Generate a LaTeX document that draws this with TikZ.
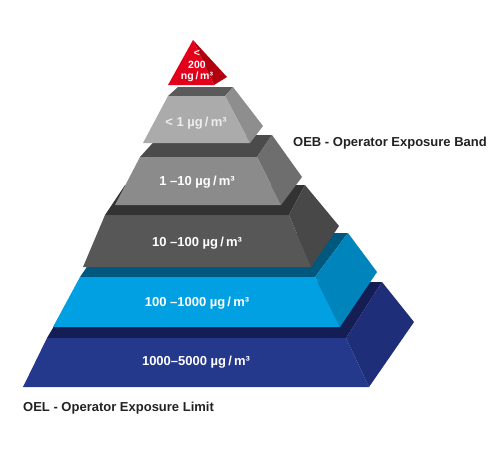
\documentclass[tikz,border=0pt]{standalone}
\usepackage{fontspec}
\setmainfont{Liberation Sans}
\definecolor{navyF}{HTML}{24388C}
\definecolor{navyS}{HTML}{1E2E78}
\definecolor{navyT}{HTML}{151D55}
\definecolor{cyanF}{HTML}{00A0E2}
\definecolor{cyanS}{HTML}{0084BC}
\definecolor{cyanT}{HTML}{00587E}
\definecolor{dgF}{HTML}{575757}
\definecolor{dgS}{HTML}{484848}
\definecolor{dgT}{HTML}{333333}
\definecolor{mgF}{HTML}{8B8B8B}
\definecolor{mgS}{HTML}{6E6E6E}
\definecolor{mgT}{HTML}{4B4B4B}
\definecolor{lgF}{HTML}{ABABAB}
\definecolor{lgS}{HTML}{8E8E8E}
\definecolor{lgT}{HTML}{5A5A5A}
\definecolor{redF}{HTML}{E2001A}
\definecolor{redS}{HTML}{B3000F}
\definecolor{capt}{HTML}{222222}
\tikzset{
  lbl/.style={text=white, font=\fontsize{13}{15}\selectfont\bfseries, inner sep=0pt},
  tiplbl/.style={text=white, font=\fontsize{10.5}{12}\selectfont\bfseries, inner sep=0pt},
  caption/.style={text=capt, font=\fontsize{13}{15}\selectfont\bfseries, inner sep=0pt, anchor=west}
}
\begin{document}
\begin{tikzpicture}[x=1pt,y=-1pt]
\useasboundingbox (0,0) rectangle (500,450);
% layer 1 navy
\fill[navyT] (47,338) -- (346,338) -- (382,282) -- (80,282) -- cycle;
\fill[navyS] (346,338) -- (382,282) -- (414,322) -- (369,387) -- cycle;
\fill[navyF] (47,338) -- (346,338) -- (369,387) -- (23,387) -- cycle;
% layer 2 light blue
\fill[cyanT] (80,277) -- (315,277) -- (348,233) -- (110,233) -- cycle;
\fill[cyanS] (315,277) -- (348,233) -- (377,272) -- (340,327) -- cycle;
\fill[cyanF] (80,277) -- (315,277) -- (340,327) -- (53,327) -- cycle;
% layer 3 dark grey
\fill[dgT] (105,215) -- (289,215) -- (305,185) -- (125,185) -- cycle;
\fill[dgS] (289,215) -- (305,185) -- (339,226) -- (311,267) -- cycle;
\fill[dgF] (105,215) -- (289,215) -- (311,267) -- (83,267) -- cycle;
% layer 4 medium grey
\fill[mgT] (140,157) -- (257,157) -- (272,135) -- (160,135) -- cycle;
\fill[mgS] (257,157) -- (272,135) -- (302,177) -- (281,205) -- cycle;
\fill[mgF] (140,157) -- (257,157) -- (281,205) -- (115,205) -- cycle;
% layer 5 light grey
\fill[lgT] (168,96) -- (225,96) -- (233,87) -- (178,87) -- cycle;
\fill[lgS] (225,96) -- (233,87) -- (263,126) -- (250,143) -- cycle;
\fill[lgF] (168,96) -- (225,96) -- (250,143) -- (143,143) -- cycle;
% red tip
\fill[redS] (193,40) -- (227,77) -- (214,85) -- cycle;
\fill[redF] (193,40) -- (214,85) -- (168,85) -- cycle;
% labels
\node[tiplbl] (t1) at (197,53) {<};
\node[tiplbl] (t2) at (197,65) {200};
\node[tiplbl] (t3) at (197,77) {ng\,/\,m³};
\node[lbl, text=white!93!black] (l5) at (196,123) {< 1 µg\,/\,m³};
\node[lbl] (l4) at (197,182) {1 –10 µg\,/\,m³};
\node[lbl] (l3) at (197,243) {10 –100 µg\,/\,m³};
\node[lbl] (l2) at (197,303) {100 –1000 µg\,/\,m³};
\node[lbl] (l1) at (196,362) {1000–5000 µg\,/\,m³};
\node[caption] (oeb) at (293,143) {OEB - Operator Exposure Band};
\node[caption] (oel) at (23,408) {OEL - Operator Exposure Limit};
\end{tikzpicture}
\end{document}
